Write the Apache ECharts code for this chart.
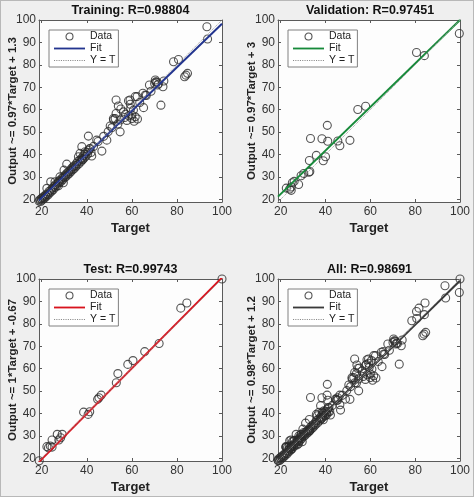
<!DOCTYPE html>
<html>
<head>
<meta charset="utf-8">
<script src="https://cdn.jsdelivr.net/npm/echarts@6/dist/echarts.min.js"></script>
<style>
html,body{margin:0;padding:0;background:#efefef;}
#c{width:474px;height:497px;box-sizing:border-box;border:1px solid #b8b8b8;}
</style>
</head>
<body>
<div id="c"></div>
<script>
// ---------- data ----------
const titles = ['Training: R=0.98804', 'Validation: R=0.97451', 'Test: R=0.99743', 'All: R=0.98691'];
const yNames = ['Output ~= 0.97*Target + 1.3', 'Output ~= 0.97*Target + 3', 'Output ~= 1*Target + -0.67', 'Output ~= 0.98*Target + 1.2'];
const xName = 'Target';
const xTicks = [20, 40, 60, 80, 100];
const yTicks = [20, 30, 40, 50, 60, 70, 80, 90, 100];
const axisMin = 18.8;
const axisMax = 100;
const fitColors = ['#23358f', '#178a3a', '#d8141e', '#3a3a3a'];
const legendNames = ['Data', 'Fit', 'Y = T'];

const trainingData = [
  [18.8,19.2],[19.2,19.8],[19.5,19.0],[19.8,20.3],[20.1,19.6],[20.4,20.8],[20.8,20.2],[21.0,21.3],[21.3,20.6],[21.7,21.9],
  [22.0,21.2],[22.3,24.9],[22.5,22.4],[22.9,22.0],[23.2,23.5],[23.6,22.9],[24.0,27.8],[24.0,24.1],[24.4,23.6],[24.8,25.0],
  [25.1,24.3],[25.5,25.8],[25.9,27.8],[25.8,25.2],[26.2,26.6],[26.6,25.9],[27.0,27.2],[27.4,26.0],[27.5,28.0],[27.8,27.4],
  [28.1,30.0],[28.2,28.6],[28.6,27.9],[29.0,29.4],[29.3,28.7],[29.6,27.4],[29.7,30.1],[29.9,33.0],[30.1,29.6],[30.5,30.9],
  [30.8,30.2],[31.1,35.7],[31.2,31.6],[31.5,30.9],[31.9,32.3],[32.2,31.5],[32.6,33.0],[32.9,32.3],[33.3,33.9],[33.6,33.1],
  [34.0,34.5],[34.3,33.6],[34.7,35.1],[35.0,34.4],[35.4,36.0],[35.7,35.2],[36.0,36.9],[36.3,39.0],[36.5,35.8],[36.9,37.5],
  [37.0,40.5],[37.3,36.7],[37.8,43.5],[37.7,38.2],[38.0,37.5],[38.2,37.8],[38.4,39.3],[38.8,38.4],[39.1,40.1],[39.3,41.2],
  [39.6,39.2],[40.0,41.0],[40.4,40.2],[40.7,48.2],[40.8,41.8],[41.2,42.5],[41.5,42.7],[41.9,40.9],[42.2,39.3],[43.0,43.6],
  [44.4,46.4],[45.0,45.8],[46.7,41.5],[47.5,48.1],[48.9,46.4],[49.5,50.2],[50.4,52.7],[51.2,52.0],[51.8,56.0],[51.9,55.4],
  [52.6,56.0],[53.0,64.3],[53.0,58.3],[53.8,53.6],[54.0,61.6],[54.8,55.4],[54.8,50.1],[55.1,60.3],[56.3,59.0],[56.8,56.5],
  [57.2,58.0],[57.8,55.2],[58.5,64.0],[58.6,57.3],[59.2,64.3],[59.3,62.4],[59.5,60.5],[60.0,57.6],[60.0,56.0],[60.7,59.8],
  [61.0,54.8],[61.5,56.8],[61.5,65.8],[62.3,65.8],[62.5,55.8],[63.5,63.2],[64.9,67.3],[65.2,60.9],[66.0,66.5],[66.4,66.3],
  [67.8,71.0],[68.5,68.2],[70.1,71.7],[70.4,73.2],[70.6,72.4],[71.1,72.3],[71.4,71.0],[71.8,71.5],[72.9,62.0],[73.8,70.2],
  [74.2,72.8],[78.5,81.4],[80.7,82.4],[83.4,74.7],[84.0,75.4],[84.7,76.2],[93.3,97.0],[93.6,91.5]
];
const validationData = [
  [99.7,94.0],[80.6,85.5],[84.1,84.1],[54.4,60.1],[57.9,61.5],[40.8,53.0],[33.3,47.1],[38.4,47.0],[41.0,45.9],[45.5,46.0],
  [50.9,46.3],[46.4,43.9],[35.9,39.6],[40.0,39.0],[32.8,37.3],[39.0,37.2],[33.0,32.4],[32.6,32.1],[30.3,31.5],[29.1,30.5],
  [28.0,26.6],[24.7,25.5],[24.7,24.0],[24.0,24.6],[22.5,25.0],[26.0,28.0],[25.2,27.4]
];
const testData = [
  [100.0,100.0],[81.7,87.0],[84.4,89.3],[72.1,71.2],[65.7,67.6],[60.5,63.6],[58.2,61.9],[53.8,57.8],[53.1,53.7],[46.4,48.2],
  [45.4,47.0],[44.8,46.3],[38.6,40.6],[41.3,40.8],[40.6,39.6],[29.1,30.7],[26.9,30.7],[28.4,29.2],[27.6,28.2],[24.6,28.2],
  [23.8,25.5],[22.3,25.2],[24.6,25.0],[23.0,24.7],[18.9,18.9]
];
const allData = trainingData.concat(validationData, testData);
const panelData = [trainingData, validationData, testData, allData];

// fit line endpoints (x, y)
const fitLines = [
  [[18.8, 19.5], [100, 98.3]],
  [[18.8, 21.2], [100, 100.0]],
  [[18.8, 18.4], [100, 100.6]],
  [[18.8, 19.6], [100, 99.2]]
];
const identityLine = [[18.8, 18.8], [100, 100]];

// ---------- layout ----------
const grids = [
  {left: 38, top: 19, width: 183, height: 182},
  {left: 277, top: 19, width: 184, height: 182},
  {left: 38, top: 278, width: 183, height: 182},
  {left: 277, top: 278, width: 183, height: 182}
];
const FONT = '"Liberation Sans", Arial, Helvetica, sans-serif';
const axisColor = '#5a5a5a';
const solidIcon = 'path://M0,0L34,0L34,2L0,2Z';
let dots = '';
for (let k = 0; k < 34; k += 2.5) dots += 'M' + k + ',0h1.2v1h-1.2Z';
const dottedIcon = 'path://' + dots;

const option = {
  backgroundColor: '#efefef',
  animation: false,
  textStyle: {fontFamily: FONT},
  title: [], grid: [], xAxis: [], yAxis: [], legend: [], series: []
};

grids.forEach((g, i) => {
  option.grid.push({left: g.left, top: g.top, width: g.width, height: g.height,
    show: true, backgroundColor: '#fdfdfd', borderWidth: 0});
  option.title.push({
    text: titles[i], left: g.left + g.width / 2, top: g.top - 16, textAlign: 'center', padding: 0,
    textStyle: {fontFamily: FONT, fontSize: 12.5, fontWeight: 'bold', color: '#111'}
  });
  const common = {
    type: 'value', gridIndex: i, min: axisMin, max: axisMax,
    splitLine: {show: false},
    axisLine: {show: true, onZero: false, lineStyle: {color: axisColor, width: 1}}
  };
  option.xAxis.push(Object.assign({}, common, {
    position: 'bottom',
    name: xName, nameLocation: 'middle', nameGap: 20, nameMoveOverlap: false,
    nameTextStyle: {fontFamily: FONT, fontSize: 13, fontWeight: 'bold', color: '#222'},
    axisTick: {show: true, inside: true, length: 3, customValues: xTicks, lineStyle: {color: axisColor}},
    axisLabel: {show: true, customValues: xTicks, color: '#333', fontSize: 12, margin: 4, fontFamily: FONT}
  }));
  option.xAxis.push(Object.assign({}, common, {
    position: 'top',
    axisTick: {show: true, inside: true, length: 3, customValues: xTicks, lineStyle: {color: axisColor}},
    axisLabel: {show: false}
  }));
  option.yAxis.push(Object.assign({}, common, {
    position: 'left',
    name: yNames[i], nameLocation: 'middle', nameGap: 20, nameMoveOverlap: false,
    nameTextStyle: {fontFamily: FONT, fontSize: 11.5, fontWeight: 'bold', color: '#222'},
    axisTick: {show: true, inside: true, length: 3, customValues: yTicks, lineStyle: {color: axisColor}},
    axisLabel: {show: true, customValues: yTicks, color: '#333', fontSize: 12, margin: 3, fontFamily: FONT}
  }));
  option.yAxis.push(Object.assign({}, common, {
    position: 'right',
    axisTick: {show: true, inside: true, length: 3, customValues: yTicks, lineStyle: {color: axisColor}},
    axisLabel: {show: false}
  }));

  const sfx = '#' + i;
  option.series.push({
    name: legendNames[0] + sfx, type: 'scatter', xAxisIndex: 2 * i, yAxisIndex: 2 * i,
    data: panelData[i], symbol: 'circle', symbolSize: 8,
    itemStyle: {color: 'rgba(0,0,0,0)', borderColor: '#2a2a2a', borderWidth: 1.1},
    z: 2
  });
  option.series.push({
    name: legendNames[1] + sfx, type: 'line', xAxisIndex: 2 * i, yAxisIndex: 2 * i,
    data: fitLines[i], symbol: 'none', clip: true,
    lineStyle: {color: fitColors[i], width: 2}, itemStyle: {color: fitColors[i]},
    z: 3
  });
  option.series.push({
    name: legendNames[2] + sfx, type: 'line', xAxisIndex: 2 * i, yAxisIndex: 2 * i,
    data: identityLine, symbol: 'none', clip: true,
    lineStyle: {color: '#9a9a9a', width: 1, type: 'dotted'}, itemStyle: {color: '#9a9a9a'},
    z: 4
  });
  option.legend.push({
    left: g.left + 10, top: g.top + 10, orient: 'vertical',
    backgroundColor: '#ffffff', borderColor: '#808080', borderWidth: 1,
    padding: [1, 3, 1, 5], itemGap: 1, itemWidth: 31, itemHeight: 7,
    selectedMode: false,
    textStyle: {fontFamily: FONT, fontSize: 10.5, color: '#222'},
    formatter: n => n.split('#')[0],
    data: [
      {name: legendNames[0] + sfx, icon: 'circle',
       itemStyle: {color: 'rgba(0,0,0,0)', borderColor: '#2a2a2a', borderWidth: 1.1}},
      {name: legendNames[1] + sfx, icon: solidIcon,
       itemStyle: {color: fitColors[i], borderWidth: 0}},
      {name: legendNames[2] + sfx, icon: dottedIcon,
       itemStyle: {color: '#8a8a8a', borderWidth: 0}}
    ]
  });
});

const chart = echarts.init(document.getElementById('c'), null, {renderer: 'canvas'});
chart.setOption(option);
</script>
</body>
</html>
